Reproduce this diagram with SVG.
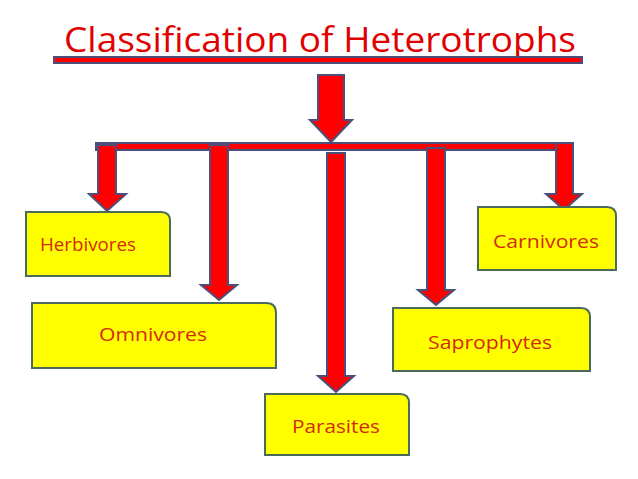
<svg xmlns="http://www.w3.org/2000/svg" width="638" height="479" viewBox="0 0 638 479">
<style>
.box{fill:#ffff00;stroke:#4a6a5a;stroke-width:2}
.lbl{font-family:"Open Sans","Liberation Sans",sans-serif;font-size:19px;fill:#d42a0a;text-anchor:middle}
.arr{fill:#ff0000;stroke:#4b4f7a;stroke-width:2;stroke-linejoin:miter}
</style>
<rect width="638" height="479" fill="#fff"/>
<text x="320" y="52" style="font-family:'Open Sans','Liberation Sans',sans-serif;font-size:34px;fill:#e00000;text-anchor:middle" textLength="512" lengthAdjust="spacingAndGlyphs">Classification of Heterotrophs</text>
<g id="connectors">
<rect class="arr" x="54" y="57" width="528" height="6"/>
<polygon class="arr" points="318,75 344,75 344,120 352,120 331,142 310,120 318,120"/>
<rect class="arr" x="96" y="143" width="477" height="7"/>
<polygon class="arr" points="98,145 116,145 116,194 126,194 107,211 89,194 98,194"/>
<polygon class="arr" points="210,145 228,145 228,285 237,285 219,300 201,285 210,285"/>
<polygon class="arr" points="327,153 345,153 345,376 354,376 336,392 318,376 327,376"/>
<polygon class="arr" points="427,148 445,148 445,290 454,290 436,305 418,290 427,290"/>
<polygon class="arr" points="556,143 573,143 573,194 582,194 564,210 546,194 556,194"/>
</g>
<g id="herbivores"><path class="box" d="M26,212 H161 Q170,212 170,221 V276 H26 Z"/><text class="lbl" x="88" y="251" textLength="96" lengthAdjust="spacingAndGlyphs">Herbivores</text></g>
<g id="omnivores"><path class="box" d="M32,303 H266 Q276,303 276,313 V368 H32 Z"/><text class="lbl" x="153" y="341" textLength="108" lengthAdjust="spacingAndGlyphs">Omnivores</text></g>
<g id="parasites"><path class="box" d="M265,394 H400 Q409,394 409,403 V455 H265 Z"/><text class="lbl" x="336" y="433" textLength="88" lengthAdjust="spacingAndGlyphs">Parasites</text></g>
<g id="saprophytes"><path class="box" d="M393,308 H581 Q590,308 590,317 V371 H393 Z"/><text class="lbl" x="490" y="349" textLength="124" lengthAdjust="spacingAndGlyphs">Saprophytes</text></g>
<g id="carnivores"><path class="box" d="M478,207 H607 Q616,207 616,216 V270 H478 Z"/><text class="lbl" x="546" y="248" textLength="106" lengthAdjust="spacingAndGlyphs">Carnivores</text></g>
</svg>
